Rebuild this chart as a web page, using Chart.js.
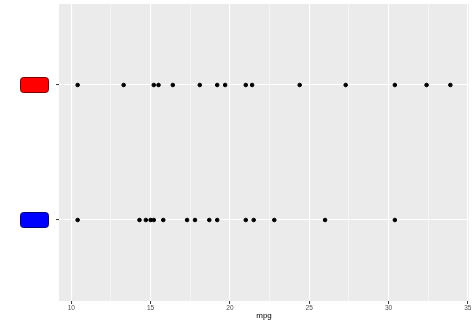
<!DOCTYPE html>
<html>
<head>
<meta charset="utf-8">
<script src="https://cdn.jsdelivr.net/npm/chart.js@4.4.1/dist/chart.umd.min.js"></script>
<style>
  html, body { margin: 0; padding: 0; background: #fff; }
  canvas { display: block; }
</style>
</head>
<body>
<canvas id="mpgChart" width="474" height="322"></canvas>
<script>
// mpg values per group (top row = red, bottom row = blue)
const redMpg = [10.4, 13.3, 15.2, 15.5, 16.4, 18.1, 19.2, 19.7, 21.0, 21.4, 24.4, 27.3, 30.4, 32.4, 33.9];
const blueMpg = [10.4, 14.3, 14.7, 15.0, 15.2, 15.8, 17.3, 17.8, 18.7, 19.2, 21.0, 21.5, 22.8, 26.0, 30.4];

// groups, bottom to top, and their swatch colours
const groupColors = ["#0000FF", "#FF0000"];
const groupBorders = ["#00007a", "#7a0000"];

const xTicks = [10, 15, 20, 25, 30, 35];
const xLimits = [9.225, 35.075];
const yLimits = [0.4, 2.6];

function toPoints(values, level) {
    return values.map(function (v) {
        return { x: v, y: level };
    });
}

// grey panel behind the grid
const panelBackground = {
    id: "panelBackground",
    beforeDraw(chart) {
        const a = chart.chartArea;
        const ctx = chart.ctx;
        ctx.save();
        ctx.fillStyle = "#EBEBEB";
        ctx.fillRect(a.left, a.top, a.right - a.left, a.bottom - a.top);
        ctx.restore();
    },
};

// coloured boxes used as y axis labels
const groupSwatches = {
    id: "groupSwatches",
    afterDraw(chart) {
        const ctx = chart.ctx;
        const yScale = chart.scales.y;
        ctx.save();
        groupColors.forEach(function (color, i) {
            const yc = yScale.getPixelForValue(i + 1);
            ctx.beginPath();
            ctx.roundRect(20.5, yc - 7.5, 28, 15, 3);
            ctx.fillStyle = color;
            ctx.fill();
            ctx.lineWidth = 1;
            ctx.strokeStyle = groupBorders[i];
            ctx.stroke();
        });
        ctx.restore();
    },
};

function buildXTicks(scale) {
    const ticks = [];
    xTicks.forEach(function (t, i) {
        if (i > 0) ticks.push({ value: t - 2.5 });
        ticks.push({ value: t });
    });
    scale.ticks = ticks;
}

function isMajor(v) {
    return xTicks.indexOf(v) !== -1;
}

const ctx = document.getElementById("mpgChart");
new Chart(ctx.getContext("2d"), {
    type: "scatter",
    data: {
        datasets: [
            {
                label: "blue",
                data: toPoints(blueMpg, 1),
                backgroundColor: "#000",
                borderColor: "#000",
                pointRadius: 1.8,
                pointHoverRadius: 1.8,
            },
            {
                label: "red",
                data: toPoints(redMpg, 2),
                backgroundColor: "#000",
                borderColor: "#000",
                pointRadius: 1.8,
                pointHoverRadius: 1.8,
            },
        ],
    },
    options: {
        responsive: false,
        animation: false,
        devicePixelRatio: 1,
        layout: {
            padding: { top: 4, right: 5, left: 0, bottom: 0 },
        },
        plugins: {
            legend: { display: false },
            tooltip: { enabled: false },
        },
        scales: {
            x: {
                type: "linear",
                min: xLimits[0],
                max: xLimits[1],
                afterBuildTicks: buildXTicks,
                afterFit(scale) {
                    scale.height = 21;
                },
                border: { display: false },
                grid: {
                    color: "#FFFFFF",
                    lineWidth(c) {
                        return isMajor(c.tick.value) ? 1.1 : 0.5;
                    },
                    tickColor(c) {
                        return isMajor(c.tick.value) ? "#333333" : "rgba(0,0,0,0)";
                    },
                    tickLength: 3,
                    tickWidth: 1,
                },
                ticks: {
                    autoSkip: false,
                    maxRotation: 0,
                    padding: 0,
                    color: "#4D4D4D",
                    font: { family: "Liberation Sans", size: 6.5 },
                    callback(v) {
                        return isMajor(v) ? String(v) : "";
                    },
                },
                title: {
                    display: true,
                    text: "mpg",
                    color: "#000",
                    padding: { top: 0, bottom: 1 },
                    font: { family: "Liberation Sans", size: 8 },
                },
            },
            y: {
                type: "linear",
                min: yLimits[0],
                max: yLimits[1],
                afterBuildTicks(scale) {
                    scale.ticks = [{ value: 1 }, { value: 2 }];
                },
                afterFit(scale) {
                    scale.width = 59;
                },
                border: { display: false },
                grid: {
                    color: "#FFFFFF",
                    lineWidth: 1.1,
                    tickColor: "#333333",
                    tickLength: 3,
                    tickWidth: 1,
                },
                ticks: {
                    padding: 0,
                    font: { size: 2 },
                    callback() {
                        return "";
                    },
                },
            },
        },
    },
    plugins: [panelBackground, groupSwatches],
});
</script>
</body>
</html>
